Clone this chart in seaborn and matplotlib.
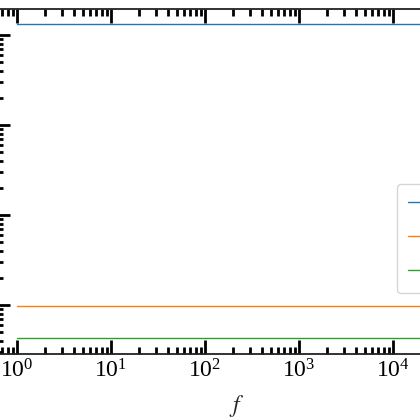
import numpy as np
import pandas as pd
import matplotlib
matplotlib.use("Agg")
import matplotlib.pyplot as plt
import seaborn as sns

sns.set_style("ticks")
plt.rcParams['font.family'] = ['Liberation Serif', 'DejaVu Serif']
plt.rcParams['mathtext.fontset'] = 'stix'

f_vals = [1.0, 1e5]
series_names = ["A", "B", "C"]
series_levels = [1330.0, 0.97, 0.43]
colors = ["#1f77b4", "#ff7f0e", "#2ca02c"]

rows = []
for n, v in zip(series_names, series_levels):
    for fv in f_vals:
        rows.append({"f": fv, "y": v, "series": n})
df = pd.DataFrame(rows)

fig = plt.figure(figsize=(4.2, 4.2), dpi=100)
W = 420.0
px_per_dec = 94.0
x0 = 17.0
xlo, xhi = -0.22, 4.9
left_px = x0 + xlo * px_per_dec
right_px = x0 + xhi * px_per_dec
top_px, bot_px = 9.0, 354.0
ax = fig.add_axes([left_px / W, 1 - bot_px / W, (right_px - left_px) / W, (bot_px - top_px) / W])

sns.lineplot(data=df, x="f", y="y", hue="series", palette=colors, ax=ax, linewidth=1.0)
ax.set_xscale("log")
ax.set_yscale("log")
ax.set_xlim(10 ** xlo, 10 ** xhi)
ax.set_ylim(10 ** (-49 / 90), 10 ** (3 + 26 / 90))
ax.set_xlabel("$f$", fontsize=17, labelpad=8)
ax.set_ylabel("")
ax.tick_params(which="both", direction="in", top=True, right=True, labelsize=17,
               width=2, color="black", labelcolor="black")
ax.tick_params(which="major", length=10)
ax.tick_params(which="minor", length=5)
ax.xaxis.set_minor_locator(matplotlib.ticker.LogLocator(subs=np.arange(2, 10), numticks=20))
ax.yaxis.set_minor_locator(matplotlib.ticker.LogLocator(subs=np.arange(2, 10), numticks=20))
for s in ax.spines.values():
    s.set_linewidth(1.3)
    s.set_color("#222222")
leg = ax.legend(loc="upper left", bbox_to_anchor=(387 / W, 1 - 174 / W),
                bbox_transform=fig.transFigure, fontsize=14, title=None,
                handlelength=2.0, labelspacing=0.85, borderpad=0.6)
fig.savefig("out.png", dpi=100)
